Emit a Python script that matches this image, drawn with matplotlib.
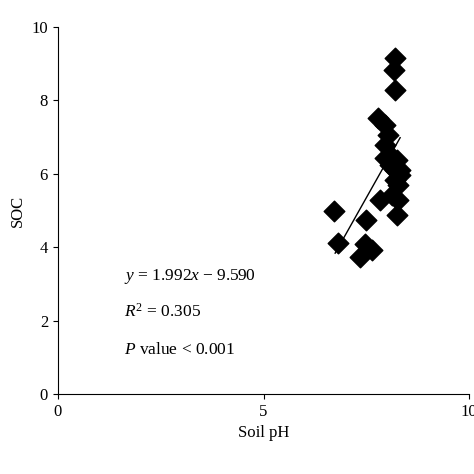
import matplotlib
matplotlib.use("Agg")
import matplotlib.pyplot as plt
import numpy as np

plt.rcParams['font.family'] = ['Liberation Serif', 'DejaVu Serif']
plt.rcParams['mathtext.fontset'] = 'custom'
plt.rcParams['mathtext.rm'] = 'Liberation Serif'
plt.rcParams['mathtext.it'] = 'Liberation Serif:italic'

ph = [6.72, 6.81, 7.47, 7.35, 7.64, 7.49, 7.83, 7.79, 7.96, 8.03, 7.96, 7.96, 8.08, 8.20, 8.32,
      8.20, 8.27, 8.32, 8.25, 8.27, 8.25, 8.20, 8.18, 8.20, 8.08, 8.13]
soc = [4.99, 4.11, 4.09, 3.73, 3.92, 4.74, 5.29, 7.52, 7.33, 7.06, 6.43, 6.78, 6.24, 6.10, 6.10,
       5.83, 5.70, 5.97, 6.38, 5.29, 4.88, 9.16, 8.83, 8.28, 6.50, 5.42]
slope, intercept = 1.992, -9.590
line_x = [6.74, 8.32]

fig = plt.figure(figsize=(4.74, 4.74), dpi=100)
ax = fig.add_axes([0.122, 0.169, 0.868, 0.774])
ax.scatter(ph, soc, marker='D', s=110, color='black', zorder=3)
lx = np.array(line_x)
ax.plot(lx, slope * lx + intercept, color='black', lw=1, zorder=2)
ax.set_xlim(0, 10)
ax.set_ylim(0, 10)
ax.set_xticks([0, 5, 10])
ax.set_yticks([0, 2, 4, 6, 8, 10])
ax.spines['top'].set_visible(False)
ax.spines['right'].set_visible(False)
ax.tick_params(labelsize=12)
ax.set_xlabel('Soil pH', fontsize=12)
ax.set_ylabel('SOC', fontsize=12)
ax.text(1.6, 3.1, r'$y$ = 1.992$x$ − 9.590', fontsize=12.5)
ax.text(1.6, 2.1, r'$R^2$ = 0.305', fontsize=12.5)
ax.text(1.6, 1.1, r'$P$ value < 0.001', fontsize=12.5)
fig.savefig('out.png', dpi=100)
